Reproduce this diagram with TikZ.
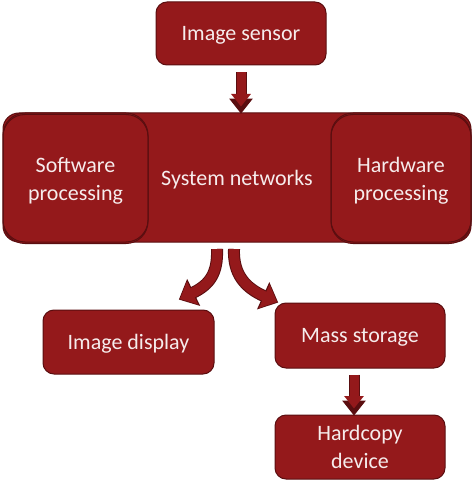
\documentclass[tikz,border=0pt]{standalone}
\usepackage{fontspec}
\setmainfont{Carlito}
\usetikzlibrary{arrows.meta}
\definecolor{boxred}{RGB}{148,25,27}
\definecolor{boxborder}{RGB}{90,14,16}
\definecolor{txt}{RGB}{246,236,236}
\tikzset{
  blk/.style={draw=boxborder, line width=1pt, fill=boxred, rounded corners=11pt,
    text=txt, align=center, font=\fontsize{22}{28}\selectfont, inner sep=0pt, text depth=0pt},
  fatarrow/.style={line width=9pt, draw=boxred, -{Triangle[width=19pt,length=12.5pt]},
    preaction={draw=boxborder, line width=11pt, -{Triangle[width=22.5pt,length=15pt]}, shorten >=-1.2pt}},
  curvarrow/.style={line width=10pt, draw=boxred, -{Triangle[width=25pt,length=14pt]},
    preaction={draw=boxborder, line width=12pt, -{Triangle[width=29pt,length=16.5pt]}, shorten >=-1.3pt}},
}
\begin{document}
\begin{tikzpicture}[x=1pt,y=-1pt]
\useasboundingbox (0,0) rectangle (474,481);
% big system box
\node[blk, rounded corners=16pt, minimum width=468pt, minimum height=129pt] (sys) at (237,177.5) {};
\node[blk, rounded corners=22pt, minimum width=145pt, minimum height=129pt] (sw) at (75.5,179) {Software\\processing};
\node[blk, rounded corners=22pt, minimum width=140pt, minimum height=129pt] (hw) at (401,179) {Hardware\\processing};
\draw[boxborder, line width=1pt, rounded corners=22pt] (148,113) rectangle (3,242);
\draw[boxborder, line width=1pt, rounded corners=22pt] (331,113) rectangle (471,242);
\node[text=txt, font=\fontsize{22}{28}\selectfont] (systxt) at (237,180) {System networks};
% other boxes
\node[blk, minimum width=170pt, minimum height=63pt] (sensor) at (241,33.5) {Image sensor};
\node[blk, minimum width=171pt, minimum height=64pt] (display) at (128.5,342) {Image display};
\node[blk, minimum width=170pt, minimum height=65pt] (storage) at (360,335.5) {Mass storage};
\node[blk, minimum width=170pt, minimum height=64pt] (hardcopy) at (360,447) {Hardcopy\\device};
% straight arrows
\draw[fatarrow, shorten <=7pt, shorten >=6pt] (sensor.south) -- (sys.north -| sensor.south);
\draw[fatarrow, shorten <=6pt, shorten >=6pt] ([xshift=-6pt]storage.south) -- ([xshift=-6pt]hardcopy.north);
% curved arrows
\coordinate (ls) at (217,249);
\coordinate (le) at (180,299);
\coordinate (rs) at (234,249);
\coordinate (re) at (277,302);
\draw[curvarrow] (ls) .. controls (218,274) and (209,285) .. (le);
\draw[curvarrow] (rs) .. controls (233,275) and (246,288) .. (re);
\end{tikzpicture}
\end{document}
